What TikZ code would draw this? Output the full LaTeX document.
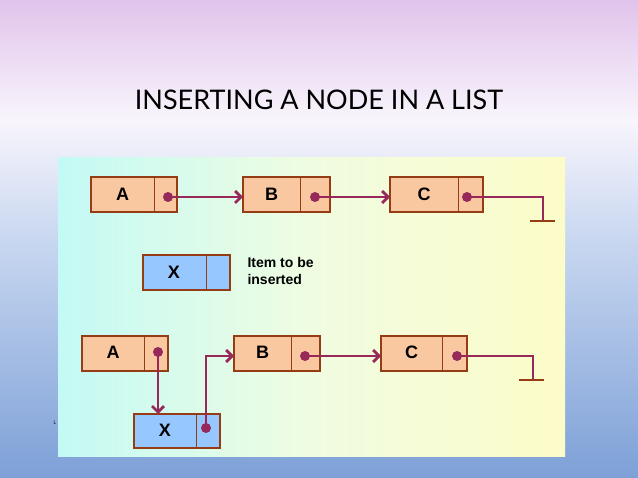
\documentclass[tikz,border=0pt]{standalone}
\usepackage{fontspec}
\setmainfont{Liberation Sans}
\newfontfamily\titlefont{Lato}
\usetikzlibrary{arrows.meta}
\definecolor{nodefill}{RGB}{250,200,160}
\definecolor{nodeline}{RGB}{150,60,20}
\definecolor{xfill}{RGB}{150,200,255}
\definecolor{link}{RGB}{150,40,90}
\begin{document}
\begin{tikzpicture}[x=1pt,y=-1pt,
  cell/.style={draw=nodeline,line width=2.8pt,fill=nodefill},
  xcell/.style={draw=nodeline,line width=2.8pt,fill=xfill},
  lbl/.style={font=\bfseries\fontsize{18}{18}\selectfont},
  ptr/.style={draw=link,line width=2.8pt,-{Straight Barb[length=6pt,width=12pt]}},
  gnd/.style={draw=link,line width=2.8pt},
  dot/.style={circle,fill=link,inner sep=0pt,minimum size=10pt}]
\useasboundingbox (0,0) rectangle (638,478);
\shade[top color={rgb,255:red,225;green,195;blue,235}, bottom color={rgb,255:red,200;green,215;blue,240}, middle color={rgb,255:red,248;green,245;blue,252}] (0,0) rectangle (638,240);
\shade[top color={rgb,255:red,200;green,215;blue,240}, bottom color={rgb,255:red,125;green,160;blue,215}] (0,240) rectangle (638,478);
\shade[shading angle=120, left color={rgb,255:red,195;green,250;blue,245}, right color={rgb,255:red,252;green,252;blue,200}, middle color={rgb,255:red,240;green,252;blue,225}] (58,158) rectangle (565,457);
\node[font=\titlefont\fontsize{27}{27}\selectfont] (title) at (319,100) {INSERTING A NODE IN A LIST};
\node[font=\fontsize{5}{5}\selectfont] (tiny) at (55,423) {L};
% row 1
\foreach \n/\l/\d/\r/\t in {a1/91/154/177/A, b1/243/300/330/B, c1/390/458/483/C}{
  \draw[cell] (\l,177) rectangle (\r,212);
  \draw[nodeline,line width=0.8pt] (\d,177) -- (\d,212);
  \node[lbl] (\n) at ({(\l+\d)/2},194) {\t};
}
\node[dot] (pa1) at (168,197) {};
\node[dot] (pb1) at (315,197) {};
\node[dot] (pc1) at (467,197) {};
\coordinate (b1l) at (243,197);
\coordinate (c1l) at (390,197);
\draw[ptr] (pa1.center) -- (b1l);
\draw[ptr] (pb1.center) -- (c1l);
\coordinate (g1) at (543,221);
\draw[gnd] (pc1.center) -| (g1);
\coordinate (g1a) at (530,221); \coordinate (g1b) at (555,221);
\draw[gnd,draw=nodeline] (g1a) -- (g1b);
% X
\draw[xcell] (143,255) rectangle (230,290);
\draw[nodeline,line width=0.8pt] (206,255) -- (206,290);
\node[lbl] (x0) at (174,272) {X};
\node[font=\bfseries\fontsize{14}{17}\selectfont,align=left,anchor=west] (item) at (244,271) {Item to be\\inserted};
% row 2
\foreach \n/\l/\d/\r/\t in {a2/82/144/168/A, b2/234/291/320/B, c2/381/442/467/C}{
  \draw[cell] (\l,336) rectangle (\r,371);
  \draw[nodeline,line width=0.8pt] (\d,336) -- (\d,371);
  \node[lbl] (\n) at ({(\l+\d)/2},352) {\t};
}
\draw[xcell] (134,414) rectangle (220,448);
\draw[nodeline,line width=0.8pt] (196,414) -- (196,448);
\node[lbl] (x2) at (165,430) {X};
\node[dot] (pa2) at (158,352) {};
\node[dot] (px2) at (206,428) {};
\node[dot] (pb2) at (305,356) {};
\node[dot] (pc2) at (457,356) {};
\coordinate (x2t) at (158,414);
\coordinate (b2l) at (234,356);
\coordinate (c2l) at (381,356);
\draw[ptr] (pa2.center) -- (x2t);
\draw[ptr] (px2.center) |- (b2l);
\draw[ptr] (pb2.center) -- (c2l);
\coordinate (g2) at (533,380);
\draw[gnd] (pc2.center) -| (g2);
\coordinate (g2a) at (519,380); \coordinate (g2b) at (544,380);
\draw[gnd,draw=nodeline] (g2a) -- (g2b);
\end{tikzpicture}
\end{document}
